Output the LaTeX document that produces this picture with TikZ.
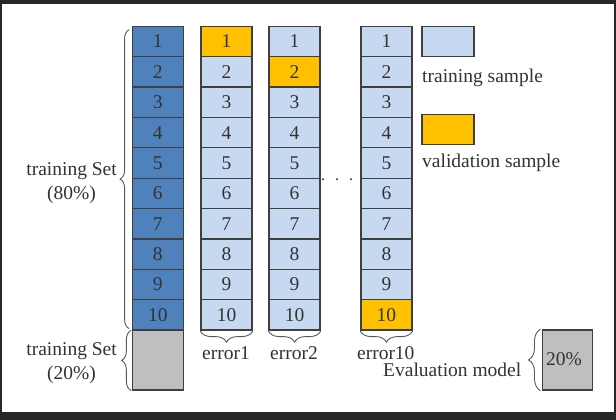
\documentclass[tikz,border=0pt]{standalone}
\usepackage{fontspec}
\setmainfont{Liberation Serif}
\usetikzlibrary{decorations.pathreplacing}
\definecolor{framec}{HTML}{262626}
\definecolor{darkb}{HTML}{4F81BD}
\definecolor{trc}{HTML}{C6D9F1}
\definecolor{valc}{HTML}{FFC000}
\definecolor{grayc}{HTML}{BFBFBF}
\definecolor{edgec}{HTML}{3F3F3F}
\definecolor{txt}{HTML}{333333}
\definecolor{bracec}{HTML}{595959}
\begin{document}
\begin{tikzpicture}[x=1pt,y=-1pt,
  lbl/.style={font=\fontsize{19.5}{23.5}\selectfont, text=txt, inner sep=0pt},
  cell/.style={draw=edgec, line width=1.3pt, minimum width=51pt, minimum height=30.36pt,
    inner sep=0pt, anchor=north west, font=\fontsize{19.5}{23.5}\selectfont, text=txt},
  brc/.style={decorate, decoration={brace, amplitude=#1}, draw=bracec, line width=0.9pt},
  brc/.default=9pt,
  dotmark/.style={circle, fill=txt, inner sep=0pt, minimum size=2.2pt}]
\fill[framec] (0,0) rectangle (616,420);
\fill[white] (2,4) rectangle (613.5,412);
\useasboundingbox (0,0) rectangle (616,420);

% column of the whole training set
\foreach \i in {1,...,10}
  \node[cell, fill=darkb] (a\i) at (131.6,{25.7+(\i-1)*30.36}) {\i};
\node[cell, fill=grayc, minimum height=60pt] (ag) at (131.6,329.3) {};

% error1
\foreach \i/\c in {1/valc,2/trc,3/trc,4/trc,5/trc,6/trc,7/trc,8/trc,9/trc,10/trc}
  \node[cell, fill=\c] (b\i) at (200.4,{25.7+(\i-1)*30.36}) {\i};
% error2
\foreach \i/\c in {1/trc,2/valc,3/trc,4/trc,5/trc,6/trc,7/trc,8/trc,9/trc,10/trc}
  \node[cell, fill=\c] (c\i) at (268.4,{25.7+(\i-1)*30.36}) {\i};
% error10
\foreach \i/\c in {1/trc,2/trc,3/trc,4/trc,5/trc,6/trc,7/trc,8/trc,9/trc,10/valc}
  \node[cell, fill=\c] (d\i) at (360.3,{25.7+(\i-1)*30.36}) {\i};

% dots
\node[dotmark] (p1) at (323,179.3) {};
\node[dotmark] (p2) at (337,179.3) {};
\node[dotmark] (p3) at (351,179.3) {};

% legend
\node[cell, fill=trc, minimum width=52pt] (lt) at (421.2,25.7) {};
\node[cell, fill=valc, minimum width=52pt] (lv) at (421.2,113.7) {};
\node[lbl, anchor=base west] (ltt) at (422,83) {training sample};
\node[lbl, anchor=base west] (lvt) at (422,167.5) {validation sample};

% evaluation box
\node[cell, fill=grayc, minimum width=50pt, minimum height=60pt] (ev) at (541.5,329.3) {};
\node[lbl, anchor=base] (evt) at (564,365) {20\%};
\node[lbl, anchor=base west] (evl) at (383,376.7) {Evaluation model};

% braces
\draw[brc=9pt] ([shift={(-2.5,-2)}]a10.south west) -- ([shift={(-2.5,4)}]a1.north west);
\draw[brc=9.5pt] ([shift={(-0.5,0)}]ag.south west) -- ([shift={(-0.5,1)}]ag.north west);
\draw[brc=11pt] ([shift={(0,0.5)}]b10.south east) -- ([shift={(0,0.5)}]b10.south west);
\draw[brc=11pt] ([shift={(0,0.5)}]c10.south east) -- ([shift={(0,0.5)}]c10.south west);
\draw[brc=11pt] ([shift={(0,0.5)}]d10.south east) -- ([shift={(0,0.5)}]d10.south west);
\draw[brc=12pt] ([shift={(-1,0)}]ev.south west) -- ([shift={(-1,0)}]ev.north west);

% labels
\node[lbl, anchor=east, align=center] (ts1) at (117,183) {training Set\\(80\%)};
\node[lbl, anchor=east, align=center] (ts2) at (117,363) {training Set\\(20\%)};
\node[lbl, anchor=base] (e1) at (226,359) {error1};
\node[lbl, anchor=base] (e2) at (294,359) {error2};
\node[lbl, anchor=base] (e10) at (385.8,359) {error10};
\end{tikzpicture}
\end{document}
